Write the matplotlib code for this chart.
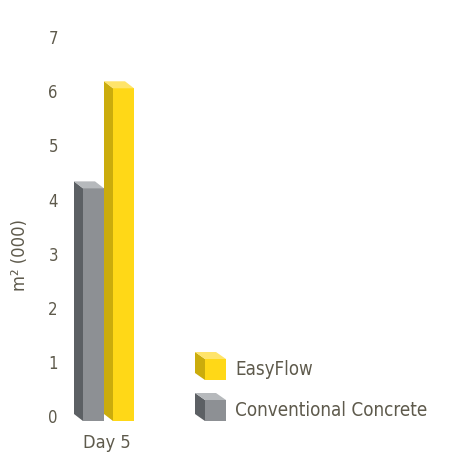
import matplotlib
matplotlib.use("Agg")
import matplotlib.pyplot as plt
from matplotlib.patches import Polygon
from matplotlib.transforms import ScaledTranslation
from matplotlib import font_manager

# data
categories = ["Day 5"]
series_names = ["Conventional Concrete", "EasyFlow"]
series_values = [[4.3], [6.15]]
y_ticks = [0, 1, 2, 3, 4, 5, 6, 7]

# colours: front, side, top
face_colors = {
    "Conventional Concrete": ("#8d9094", "#5c6064", "#b6b9bc"),
    "EasyFlow": ("#ffd817", "#cbac0c", "#ffe46a"),
}
text_color = "#5e5a4c"

# prefer a condensed face if one is installed
condensed = [f for f in font_manager.fontManager.ttflist
             if f.name == "DejaVu Sans" and "ondensed" in str(f.stretch) + f.fname and f.weight in (400, "normal")]
if condensed:
    plt.rcParams["font.family"] = ["DejaVu Sans"]
    plt.rcParams["font.stretch"] = "condensed"
else:
    plt.rcParams["font.family"] = ["Liberation Sans", "DejaVu Sans"]

W, H = 450, 470
fig = plt.figure(figsize=(W / 100, H / 100), dpi=100)
renderer = fig.canvas.get_renderer()


def fit_width(txt, target_px, horizontal=True):
    # scale the font size so the text spans about target_px
    bb = txt.get_window_extent(renderer)
    cur = bb.width if horizontal else bb.height
    txt.set_fontsize(txt.get_fontsize() * target_px / cur)


px_per_unit = 54.1
ax_left, ax_width = 62, 92
ax_base = 421
ylim_top = 7.5
ax = fig.add_axes([ax_left / W, (H - ax_base) / H, ax_width / W, ylim_top * px_per_unit / H])
ax.set_xlim(-0.46, 0.46)
ax.set_ylim(0, ylim_top)

bar_width = 0.21
offsets = [-0.145, 0.155]
depth_x = -0.09
depth_y = 7 / px_per_unit

for name, vals, off in zip(series_names, series_values, offsets):
    front, side, top = face_colors[name]
    for i, v in enumerate(vals):
        x0 = i + off - bar_width / 2
        x1 = x0 + bar_width
        ax.bar(i + off, v, width=bar_width, color=front, zorder=3, linewidth=0)
        ax.add_patch(Polygon([(x0, 0), (x0 + depth_x, depth_y), (x0 + depth_x, v + depth_y), (x0, v)],
                             closed=True, facecolor=side, edgecolor="none", zorder=3, clip_on=False))
        ax.add_patch(Polygon([(x0, v), (x0 + depth_x, v + depth_y), (x1 + depth_x, v + depth_y), (x1, v)],
                             closed=True, facecolor=top, edgecolor="none", zorder=3, clip_on=False))

for s in ax.spines.values():
    s.set_visible(False)
ax.set_yticks(y_ticks)
ax.set_yticklabels([str(t) for t in y_ticks])
ax.set_xticks([])
ax.tick_params(axis="y", length=0, pad=3, labelsize=12, labelcolor=text_color)
shift = ScaledTranslation(0, 5 / 100, fig.dpi_scale_trans)
for lab in ax.get_yticklabels():
    lab.set_transform(lab.get_transform() + shift)

# category label under the bars
for i, cat in enumerate(categories):
    t = ax.text(i - 0.01, 0, cat, ha="center", va="baseline", fontsize=15, color=text_color)
    t.set_transform(ax.get_xaxis_transform() + ScaledTranslation(0, -27 / 100, fig.dpi_scale_trans))
    fit_width(t, 48)

ylab = fig.text(20 / W, 1 - 255 / H, "m² (000)", rotation=90, ha="center", va="center",
                fontsize=14, color=text_color)
fit_width(ylab, 72, horizontal=False)

# legend with cube icons, drawn in pixel space
leg = fig.add_axes([0, 0, 1, 1])
leg.set_xlim(0, W)
leg.set_ylim(H, 0)
leg.axis("off")
legend_rows = [("EasyFlow", 380, 78), ("Conventional Concrete", 421, 193)]
for name, ybot, tw in legend_rows:
    front, side, top = face_colors[name]
    fx0, fx1, size, dx, dy = 205, 226, 21, -10, -7
    leg.add_patch(Polygon([(fx0, ybot), (fx1, ybot), (fx1, ybot - size), (fx0, ybot - size)], facecolor=front))
    leg.add_patch(Polygon([(fx0, ybot), (fx0 + dx, ybot + dy), (fx0 + dx, ybot - size + dy), (fx0, ybot - size)],
                          facecolor=side))
    leg.add_patch(Polygon([(fx0, ybot - size), (fx0 + dx, ybot - size + dy), (fx1 + dx, ybot - size + dy),
                           (fx1, ybot - size)], facecolor=top))
    t = leg.text(235, ybot - 5, name, fontsize=15, color=text_color, va="baseline", ha="left")
    fit_width(t, tw)

fig.savefig("out.png", dpi=100)
